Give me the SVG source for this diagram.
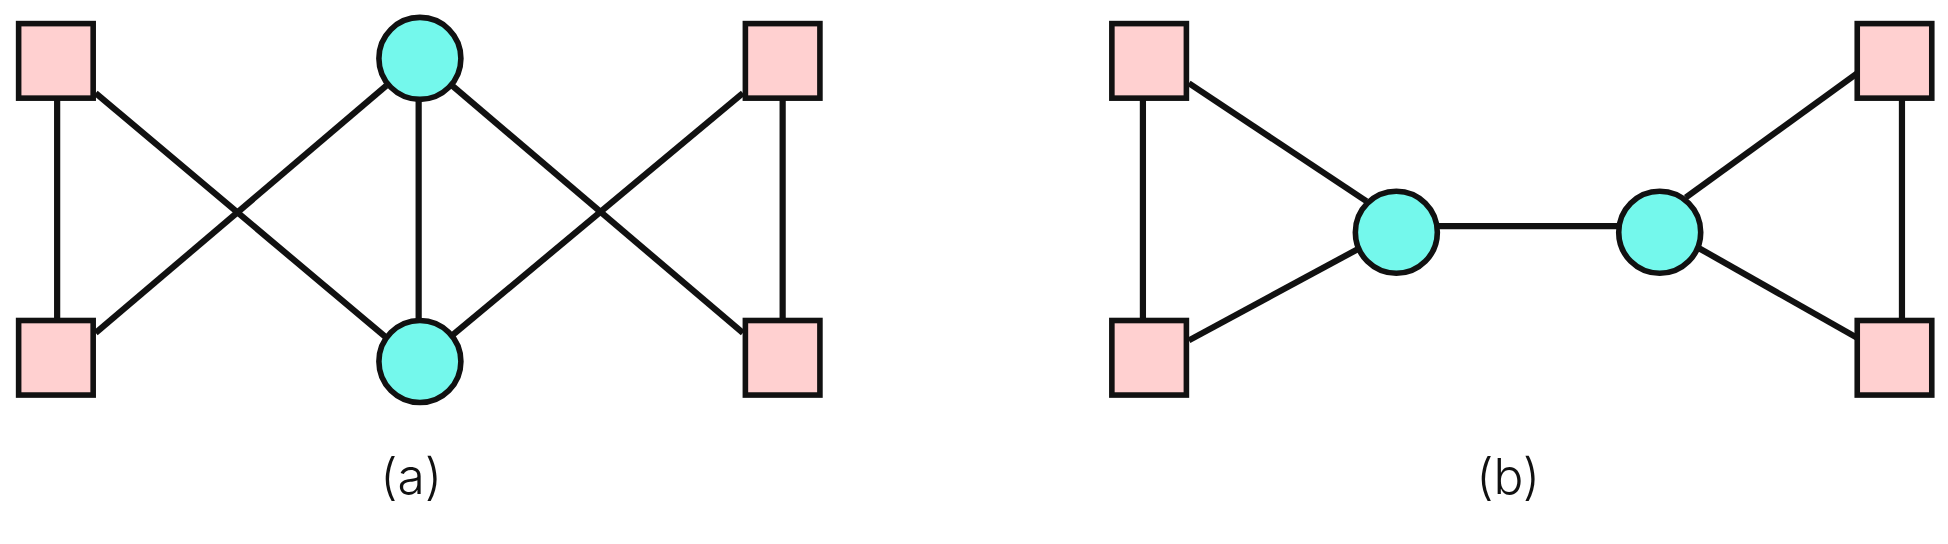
<svg xmlns="http://www.w3.org/2000/svg" width="1948" height="544" viewBox="0 0 1948 544">
<style>
.sq{fill:#ffd0d0;stroke:#111;stroke-width:4.5}
.ci{fill:#74f8ec;stroke:#111;stroke-width:4.5}
.e{stroke:#111;stroke-width:5;fill:none}
.lb{font-family:Inter,"Liberation Sans",sans-serif;font-weight:300;font-size:40px;fill:#111;text-anchor:middle}
</style>
<rect width="1948" height="544" fill="#fff"/>
<g transform="scale(1.2423)">
<g id="connectors">
<line class="e" x1="46" y1="80" x2="46" y2="258"/>
<line class="e" x1="630" y1="80" x2="630" y2="258"/>
<line class="e" x1="337" y1="80" x2="337" y2="258"/>
<line class="e" x1="77" y1="75" x2="310" y2="271"/>
<line class="e" x1="77" y1="268" x2="311" y2="69"/>
<line class="e" x1="364" y1="69" x2="598" y2="268"/>
<line class="e" x1="364" y1="270" x2="598" y2="75"/>
<line class="e" x1="920" y1="80" x2="920" y2="258"/>
<line class="e" x1="1531" y1="80" x2="1531" y2="258"/>
<line class="e" x1="957" y1="67" x2="1100" y2="162"/>
<line class="e" x1="957" y1="274" x2="1094" y2="200"/>
<line class="e" x1="1157" y1="182" x2="1303" y2="182"/>
<line class="e" x1="1357" y1="159" x2="1495" y2="59"/>
<line class="e" x1="1368" y1="200" x2="1495" y2="272"/>
</g>
<g id="a_sq_tl"><rect class="sq" x="15" y="19" width="60" height="60"/></g>
<g id="a_sq_bl"><rect class="sq" x="15" y="258" width="60" height="60"/></g>
<g id="a_sq_tr"><rect class="sq" x="600" y="19" width="60" height="60"/></g>
<g id="a_sq_br"><rect class="sq" x="600" y="258" width="60" height="60"/></g>
<g id="a_ci_t"><circle class="ci" cx="338" cy="47" r="33"/></g>
<g id="a_ci_b"><circle class="ci" cx="338" cy="291" r="33"/></g>
<g id="b_sq_tl"><rect class="sq" x="895" y="19" width="60" height="60"/></g>
<g id="b_sq_bl"><rect class="sq" x="895" y="258" width="60" height="60"/></g>
<g id="b_sq_tr"><rect class="sq" x="1495" y="19" width="60" height="60"/></g>
<g id="b_sq_br"><rect class="sq" x="1495" y="258" width="60" height="60"/></g>
<g id="b_ci_l"><circle class="ci" cx="1124" cy="187" r="33"/></g>
<g id="b_ci_r"><circle class="ci" cx="1336" cy="187" r="33"/></g>
<text class="lb" x="331" y="398">(a)</text>
<text class="lb" x="1214" y="398">(b)</text>
</g>
</svg>
